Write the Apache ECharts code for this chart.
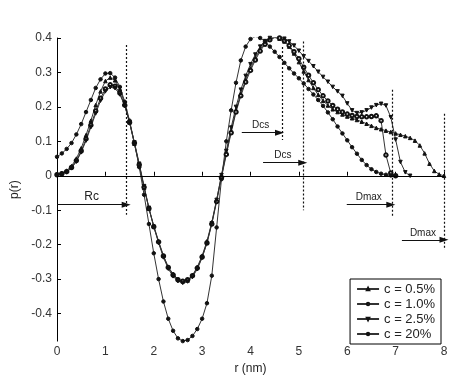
<!DOCTYPE html>
<html>
<head>
<meta charset="utf-8">
<script src="https://cdn.jsdelivr.net/npm/echarts@6/dist/echarts.min.js"></script>
<style>html,body{margin:0;padding:0;background:#fff}#c{width:474px;height:380px}</style>
</head>
<body>
<div id="c"></div>
<script>
const r = [0,0.1,0.2,0.3,0.4,0.5,0.6,0.7,0.8,0.9,1.0,1.1,1.2,1.3,1.4,1.5,1.6,1.7,1.8,1.9,2.0,2.1,2.2,2.3,2.4,2.5,2.6,2.7,2.8,2.9,3.0,3.1,3.2,3.3,3.4,3.5,3.6,3.7,3.8,3.9,4.0,4.1,4.2,4.3,4.4,4.5,4.6,4.7,4.8,4.9,5.0,5.1,5.2,5.3,5.4,5.5,5.6,5.7,5.8,5.9,6.0,6.1,6.2,6.3,6.4,6.5,6.6,6.7,6.8,6.9,7.0,7.1,7.2,7.3,7.4,7.5,7.6,7.7,7.8,7.9,8.0];

const c05 = [0.005,0.008,0.015,0.028,0.05,0.08,0.118,0.16,0.205,0.245,0.275,0.285,0.277,0.252,0.21,0.155,0.093,0.03,-0.035,-0.095,-0.145,-0.19,-0.232,-0.265,-0.285,-0.3,-0.307,-0.304,-0.289,-0.265,-0.232,-0.19,-0.135,-0.07,0.0,0.065,0.13,0.19,0.238,0.278,0.312,0.342,0.367,0.386,0.398,0.402,0.398,0.39,0.375,0.355,0.33,0.303,0.278,0.255,0.235,0.218,0.204,0.193,0.185,0.178,0.172,0.167,0.162,0.157,0.151,0.145,0.139,0.135,0.131,0.127,0.123,0.119,0.115,0.11,0.102,0.088,0.065,0.035,0.014,0.004,0.0];

const c10 = [0.003,0.006,0.012,0.024,0.044,0.072,0.107,0.147,0.188,0.225,0.252,0.264,0.26,0.24,0.205,0.155,0.095,0.032,-0.033,-0.095,-0.148,-0.192,-0.233,-0.266,-0.288,-0.302,-0.306,-0.302,-0.29,-0.268,-0.236,-0.195,-0.14,-0.075,-0.005,0.062,0.125,0.185,0.232,0.272,0.306,0.336,0.362,0.382,0.395,0.401,0.4,0.392,0.378,0.36,0.34,0.315,0.292,0.27,0.25,0.232,0.217,0.204,0.193,0.185,0.179,0.175,0.172,0.171,0.171,0.172,0.174,0.16,0.06,0.008,0.0];

const c25 = [0.002,0.005,0.011,0.022,0.041,0.068,0.102,0.141,0.181,0.218,0.245,0.257,0.254,0.236,0.203,0.155,0.097,0.035,-0.03,-0.093,-0.148,-0.195,-0.237,-0.27,-0.292,-0.306,-0.311,-0.307,-0.294,-0.271,-0.238,-0.195,-0.138,-0.07,0.002,0.072,0.14,0.2,0.25,0.29,0.324,0.352,0.375,0.391,0.4,0.403,0.402,0.398,0.39,0.378,0.363,0.347,0.333,0.318,0.302,0.287,0.273,0.258,0.245,0.232,0.21,0.19,0.182,0.184,0.19,0.198,0.205,0.209,0.204,0.17,0.105,0.04,0.01,0.0];

const c20 = [0.055,0.065,0.078,0.095,0.12,0.15,0.185,0.22,0.255,0.28,0.297,0.298,0.285,0.258,0.215,0.16,0.095,0.025,-0.055,-0.14,-0.225,-0.3,-0.365,-0.415,-0.45,-0.472,-0.48,-0.477,-0.465,-0.445,-0.415,-0.37,-0.29,-0.15,-0.01,0.1,0.19,0.27,0.335,0.375,0.397,0.404,0.4,0.39,0.375,0.36,0.345,0.328,0.312,0.297,0.283,0.268,0.252,0.236,0.22,0.203,0.184,0.164,0.143,0.123,0.103,0.083,0.064,0.046,0.031,0.019,0.011,0.006,0.003,0.001,0];

const seriesNames = ['c = 0.5%','c = 1.0%','c = 2.5%','c = 20%'];
const yTicks = [-0.4,-0.3,-0.2,-0.1,0,0.1,0.2,0.3,0.4];

// annotation lines in data units: [r, yTop, yBottom]
const dottedLines = [[1.43,0.38,-0.113],[4.65,0.374,0.104],[5.1,0.39,-0.1],[6.92,0.25,-0.12],[8.0,0.18,-0.215]];
// arrows: [label, rStart, rEnd, y]
const arrows = [['Rc',0,1.43,-0.084],['Dcs',3.82,4.6,0.125],['Dcs',4.26,5.08,0.038],['Dmax',5.99,6.9,-0.084],['Dmax',7.13,8.0,-0.186]];

const zip = v => v.map((y,i)=>[r[i],y]);
const lineColor = '#333';
const markColor = '#111';

const chart = echarts.init(document.getElementById('c'));
const markData = [];
dottedLines.forEach(d => markData.push([
  {coord:[d[0],d[1]], symbol:'none', lineStyle:{type:[2,2], width:1.2, color:'#111'}, label:{show:false}},
  {coord:[d[0],d[2]], symbol:'none'}
]));
arrows.forEach(a => markData.push([
  {coord:[a[1],a[3]], symbol:'none', lineStyle:{type:'solid', width:1, color:'#111'},
   label:{show:true, formatter:a[0], position:'insideMiddleTop', distance:2, fontSize:a[0]==='Rc'?12:10, color:'#222', fontFamily:'Liberation Sans, Arial'}},
  {coord:[a[2],a[3]], symbol:'triangle', symbolSize:[6,9], symbolRotate:-90}
]));
markData.push([{coord:[0,0], symbol:'none', lineStyle:{type:'solid', width:1, color:'#000'}, label:{show:false}},{coord:[8,0], symbol:'none'}]);

const mkSeries = (name, data, symbol, size, rotate) => ({
  name, type:'line', data: zip(data), symbol, symbolSize:size, symbolRotate:rotate||0,
  lineStyle:{color:lineColor, width:1}, itemStyle:{color:markColor, borderColor:markColor, borderWidth:1},
  showAllSymbol:true, z:3
});

chart.setOption({
  animation:false,
  textStyle:{fontFamily:'Liberation Sans, Arial, sans-serif'},
  grid:{left:57, right:30, top:38, bottom:38},
  xAxis:{type:'value', min:0, max:8, interval:1,
    name:'r (nm)', nameLocation:'middle', nameGap:18, nameTextStyle:{fontSize:12, color:'#222'},
    axisLine:{lineStyle:{color:'#000', width:1}}, axisTick:{inside:true, length:4, lineStyle:{color:'#000'}},
    axisLabel:{fontSize:12, color:'#333', margin:5}, splitLine:{show:false}},
  yAxis:{type:'value', min:-0.48, max:0.4,
    name:'p(r)', nameLocation:'middle', nameGap:33, nameRotate:90, nameTextStyle:{fontSize:12, color:'#222'},
    axisLine:{show:true, lineStyle:{color:'#000', width:1}},
    axisTick:{show:true, inside:true, length:4, customValues:yTicks, lineStyle:{color:'#000'}},
    axisLabel:{fontSize:12, color:'#333', margin:5, customValues:yTicks, formatter:v => Math.abs(v)<1e-9 ? '0' : v.toFixed(1)},
    splitLine:{show:false}},
  legend:{data:seriesNames, orient:'vertical', right:33, top:279, backgroundColor:'#fff',
    borderColor:'#000', borderWidth:1, padding:[3,6,3,6], itemGap:1, itemWidth:22, itemHeight:3,
    textStyle:{fontSize:13, color:'#222', lineHeight:14}},
  series:[
    mkSeries(seriesNames[0], c05, 'triangle', 3.5),
    mkSeries(seriesNames[1], c10, 'emptyCircle', 3.5),
    mkSeries(seriesNames[2], c25, 'triangle', 3.5, 180),
    mkSeries(seriesNames[3], c20, 'circle', 3.5),
    {type:'line', data:[], silent:true, markLine:{silent:true, animation:false, symbol:'none', data:markData}}
  ]
});
</script>
</body>
</html>
